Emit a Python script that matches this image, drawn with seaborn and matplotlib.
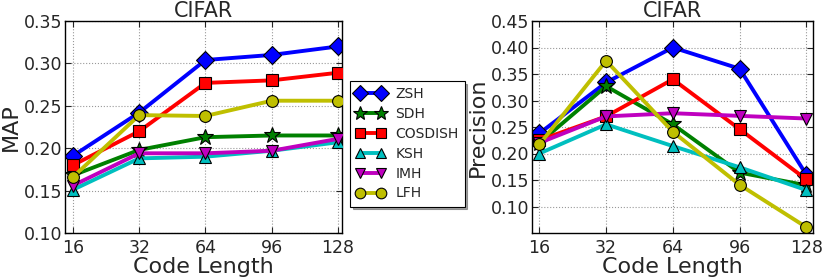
import numpy as np
import pandas as pd
import matplotlib
matplotlib.use('Agg')
import matplotlib.pyplot as plt
import seaborn as sns

# Data
code_lengths = [16, 32, 64, 96, 128]
methods = ['ZSH', 'SDH', 'COSDISH', 'KSH', 'IMH', 'LFH']

map_zsh = [0.191, 0.242, 0.304, 0.310, 0.320]
map_sdh = [0.168, 0.198, 0.213, 0.215, 0.215]
map_cosdish = [0.180, 0.220, 0.277, 0.280, 0.289]
map_ksh = [0.151, 0.188, 0.190, 0.197, 0.207]
map_imh = [0.156, 0.194, 0.194, 0.197, 0.211]
map_lfh = [0.166, 0.239, 0.238, 0.256, 0.256]

prec_zsh = [0.238, 0.334, 0.400, 0.360, 0.160]
prec_sdh = [0.220, 0.327, 0.255, 0.164, 0.140]
prec_cosdish = [0.225, 0.270, 0.340, 0.246, 0.151]
prec_ksh = [0.200, 0.255, 0.214, 0.174, 0.131]
prec_imh = [0.220, 0.270, 0.276, 0.271, 0.266]
prec_lfh = [0.217, 0.375, 0.241, 0.141, 0.061]

map_vals = [map_zsh, map_sdh, map_cosdish, map_ksh, map_imh, map_lfh]
prec_vals = [prec_zsh, prec_sdh, prec_cosdish, prec_ksh, prec_imh, prec_lfh]

colors = ['#0000ff', '#008000', '#ff0000', '#00bfbf', '#bf00bf', '#bfbf00']
markers = ['D', '*', 's', '^', 'v', 'o']
msizes = [9, 12, 8.5, 8.5, 8.5, 8.5]

rows = []
for m, mv, pv in zip(methods, map_vals, prec_vals):
    for i, cl in enumerate(code_lengths):
        rows.append({'method': m, 'pos': i, 'bits': cl, 'MAP': mv[i], 'Precision': pv[i]})
df = pd.DataFrame(rows)

sns.set_theme(style='white')
plt.rcParams['font.family'] = ['DejaVu Sans']
plt.rcParams['xtick.direction'] = 'in'
plt.rcParams['ytick.direction'] = 'in'

fig = plt.figure(figsize=(8.23, 2.79), dpi=100)
ax1 = fig.add_axes([65 / 823, 46 / 279, 277 / 823, 212 / 279])
ax2 = fig.add_axes([532 / 823, 46 / 279, 281 / 823, 212 / 279])


def draw(ax, col):
    for k, m in enumerate(methods):
        sub = df[df['method'] == m]
        sns.lineplot(data=sub, x='pos', y=col, ax=ax, color=colors[k],
                     marker=markers[k], markersize=msizes[k], linewidth=2.8,
                     markeredgecolor='black', markeredgewidth=0.8,
                     label=m, legend=False, zorder=2 + k)
    ax.set_xticks(range(len(code_lengths)))
    ax.set_xticklabels([str(c) for c in code_lengths])
    ax.grid(True, linestyle=':', color='#999999', linewidth=0.8)
    ax.set_axisbelow(True)
    ax.tick_params(axis='both', labelsize=12.5, length=4, width=0.8,
                   top=True, right=True, bottom=True, left=True)
    ax.tick_params(axis='y', pad=2)
    ax.tick_params(axis='x', pad=4)
    for s in ax.spines.values():
        s.set_color('black')
        s.set_linewidth(1.0)
    ax.set_xlabel('Code Length', fontsize=16, labelpad=0)
    ax.set_ylabel(col, fontsize=16, labelpad=2)
    ax.set_title('CIFAR', fontsize=15, pad=3)


draw(ax1, 'MAP')
ax1.set_xlim(-0.12, 4.06)
ax1.set_ylim(0.10, 0.35)
mt = [0.10, 0.15, 0.20, 0.25, 0.30, 0.35]
ax1.set_yticks(mt)
ax1.set_yticklabels(['%.2f' % v for v in mt])

draw(ax2, 'Precision')
ax2.set_xlim(-0.11, 4.1)
ax2.set_ylim(0.05, 0.45)
pt = [0.10, 0.15, 0.20, 0.25, 0.30, 0.35, 0.40, 0.45]
ax2.set_yticks(pt)
ax2.set_yticklabels(['%.2f' % v for v in pt])

handles, labels = ax1.get_legend_handles_labels()
leg = fig.legend(handles, labels, loc='upper left',
                 bbox_to_anchor=(350 / 823, 1 - 81 / 279),
                 fontsize=10, numpoints=2, handlelength=2.1, markerscale=0.9,
                 frameon=True, fancybox=False, shadow=True,
                 borderpad=0.45, labelspacing=0.42, handletextpad=0.7,
                 borderaxespad=0)
leg.get_frame().set_edgecolor('black')
leg.get_frame().set_linewidth(0.8)

fig.savefig('out.png', dpi=100, facecolor='white')
